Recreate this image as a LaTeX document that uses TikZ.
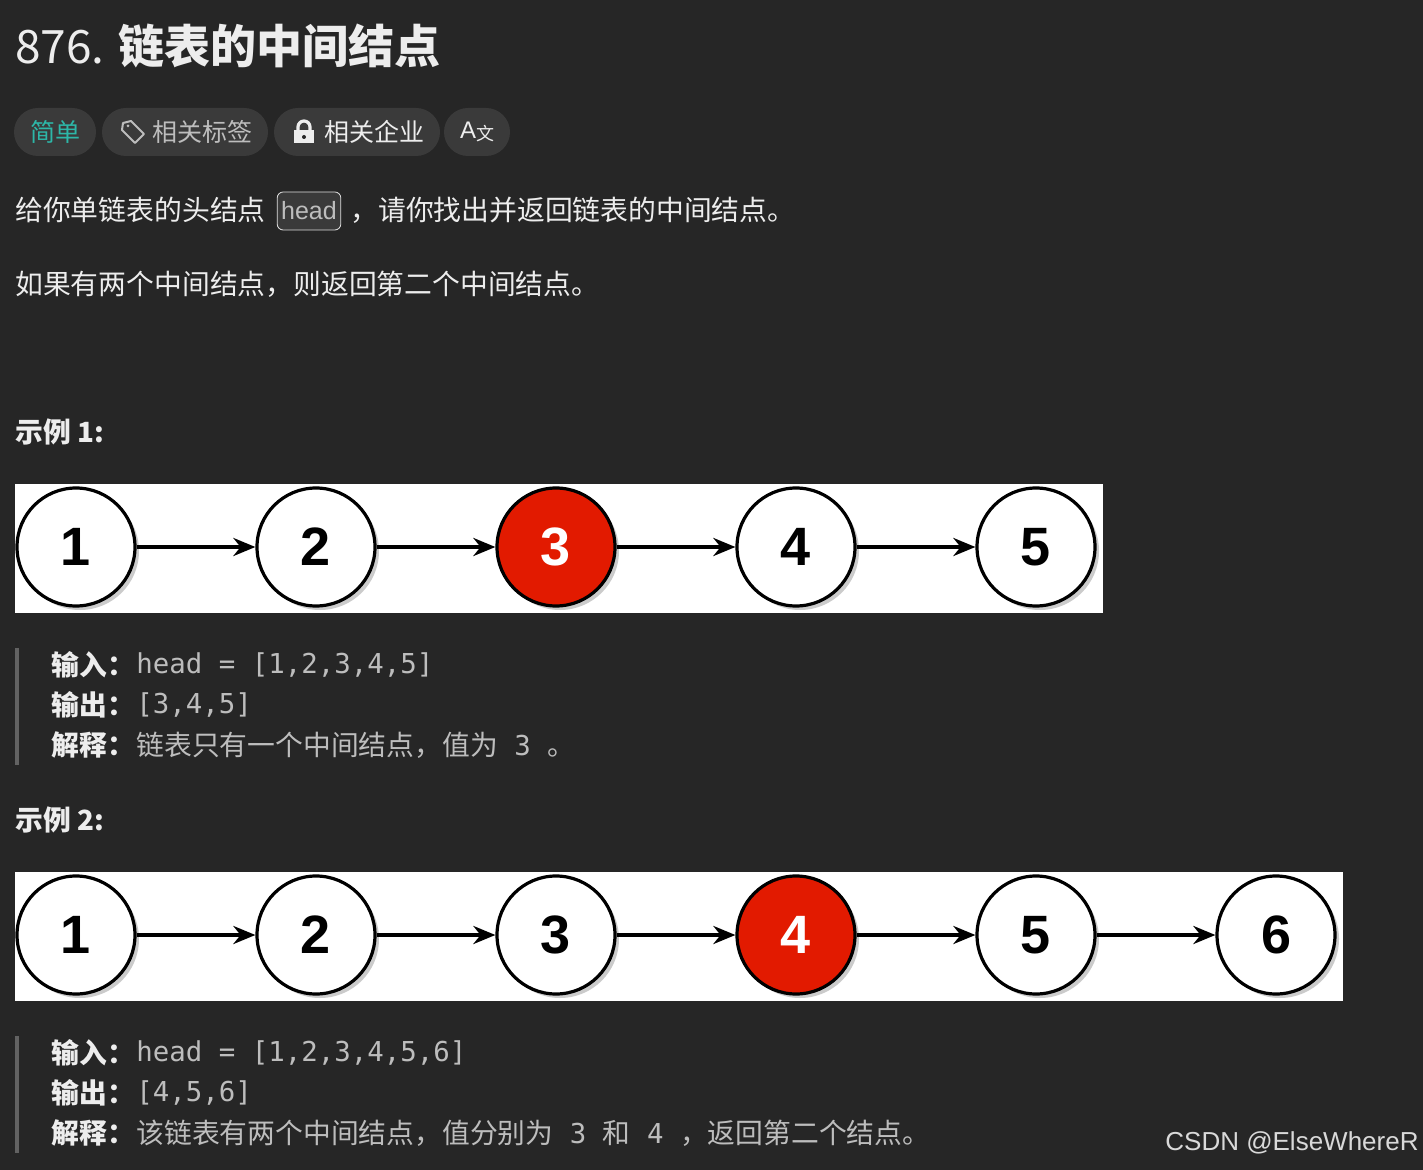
\documentclass[tikz,border=0pt]{standalone}
\usepackage{fontspec}
\setmainfont{Noto Sans CJK SC}
\newfontfamily\cjk{Noto Sans CJK SC}
\newfontfamily\mono{DejaVu Sans Mono}
\newfontfamily\numf{Liberation Sans}
\usetikzlibrary{arrows.meta}
\definecolor{bg}{HTML}{262626}
\definecolor{pill}{HTML}{3A3A3A}
\definecolor{txt}{HTML}{EDEDED}
\definecolor{gr}{HTML}{BDBDBD}
\definecolor{teal}{HTML}{2DB7A8}
\definecolor{redn}{HTML}{E21A00}
\tikzset{
 tx/.style={anchor=west,inner sep=0,text=txt,font=\cjk\fontsize{13.9}{16}\selectfont},
 code/.style={anchor=west,inner sep=0,text=gr,font=\mono\fontsize{13.7}{16}\selectfont},
 lb/.style={anchor=west,inner sep=0,text=txt,font=\cjk\bfseries\fontsize{13.9}{16}\selectfont},
 pillbox/.style={fill=pill,rounded corners=12pt,minimum height=24pt,inner xsep=8pt,text=gr,font=\cjk\fontsize{12.5}{14}\selectfont},
 ln/.style={circle,draw=black,line width=1.6pt,fill=white,minimum size=59pt,inner sep=0,font=\numf\bfseries\fontsize{27}{30}\selectfont,
   preaction={fill=black!40,opacity=0.5,transform canvas={xshift=2pt,yshift=-2pt}}},
 hl/.style={ln,fill=redn,text=white},
 arr/.style={-{Stealth[length=11pt,width=9pt]},line width=2pt,black}
}
\begin{document}
\begin{tikzpicture}[x=0.5pt,y=-0.5pt]
\fill[bg] (0,0) rectangle (1423,1170);
\useasboundingbox (0,0) rectangle (1423,1170);
\node[tx,font=\cjk\fontsize{23}{26}\selectfont] (title) at (15,46) {876. {\bfseries 链表的中间结点}};
\node[pillbox,text=teal] (p1) at (55,132) {简单};
\node[pillbox] (p2) at (185,132) {\hspace*{17pt}相关标签};
\draw[gr,line width=1pt,line join=round] (123,123) -- (131,121) -- (144,134) -- (135,143) -- (122,130) -- cycle;
\fill[gr] (128,126) circle (1.5);
\node[pillbox,text=txt] (p3) at (357,132) {\hspace*{17pt}相关企业};
\fill[txt] (294,130) rectangle (314,143);
\draw[txt,line width=1.6pt] (298,130) -- (298,127) arc (180:360:6) -- (310,130);
\fill[bg] (304,137) circle (2);
\node[pillbox,text=txt,font=\numf\fontsize{12}{14}\selectfont,minimum width=29pt] (p4) at (477,132) {A\raisebox{-1pt}{\cjk\fontsize{9}{9}\selectfont 文}};
\node[tx] (d1a) at (15,210) {给你单链表的头结点};
\node[draw=gr!50,fill=pill,rounded corners=3pt,inner sep=2pt,text=gr,font=\numf\fontsize{12.5}{14}\selectfont,minimum height=19pt] (hd) at (309,211) {head};
\node[tx] (d1b) at (350,210) {，请你找出并返回链表的中间结点。};
\node[tx] (d2) at (15,284) {如果有两个中间结点，则返回第二个中间结点。};
\node[lb] (e1) at (15,432) {示例 1:};
\fill[white] (15,484) rectangle (1103,613);
\foreach \i/\x in {1/76,2/316,4/796,5/1036}{\node[ln] (a\i) at (\x,547) {\i};}
\node[hl] (a3) at (556,547) {3};
\foreach \i/\j in {1/2,2/3,3/4,4/5}{\draw[arr] (a\i) -- (a\j);}
\fill[gr!40!bg] (15,648) rectangle (19,765);
\node[lb] (i1) at (51,665) {输入：};
\node[code] at (136,665) {head = [1,2,3,4,5]};
\node[lb] (o1) at (51,705) {输出：};
\node[code] at (136,705) {[3,4,5]};
\node[lb] (x1) at (51,745) {解释：};
\node[tx,text=gr] at (136,745) {链表只有一个中间结点，值为{\mono\fontsize{13.7}{16}\selectfont\ 3\ }。};
\node[lb] (e2) at (15,820) {示例 2:};
\fill[white] (15,872) rectangle (1343,1001);
\foreach \i/\x in {1/76,2/316,3/556,5/1036,6/1276}{\node[ln] (b\i) at (\x,935) {\i};}
\node[hl] (b4) at (796,935) {4};
\foreach \i/\j in {1/2,2/3,3/4,4/5,5/6}{\draw[arr] (b\i) -- (b\j);}
\fill[gr!40!bg] (15,1036) rectangle (19,1153);
\node[lb] at (51,1053) {输入：};
\node[code] at (136,1053) {head = [1,2,3,4,5,6]};
\node[lb] at (51,1093) {输出：};
\node[code] at (136,1093) {[4,5,6]};
\node[lb] at (51,1133) {解释：};
\node[tx,text=gr] at (136,1133) {该链表有两个中间结点，值分别为{\mono\fontsize{13.7}{16}\selectfont\ 3\ }和{\mono\fontsize{13.7}{16}\selectfont\ 4\ }，返回第二个结点。};
\node[anchor=east,inner sep=0,text=white!85!black,font=\numf\fontsize{13}{15}\selectfont] (wm) at (1419,1143) {CSDN @ElseWhereR};
\end{tikzpicture}
\end{document}
